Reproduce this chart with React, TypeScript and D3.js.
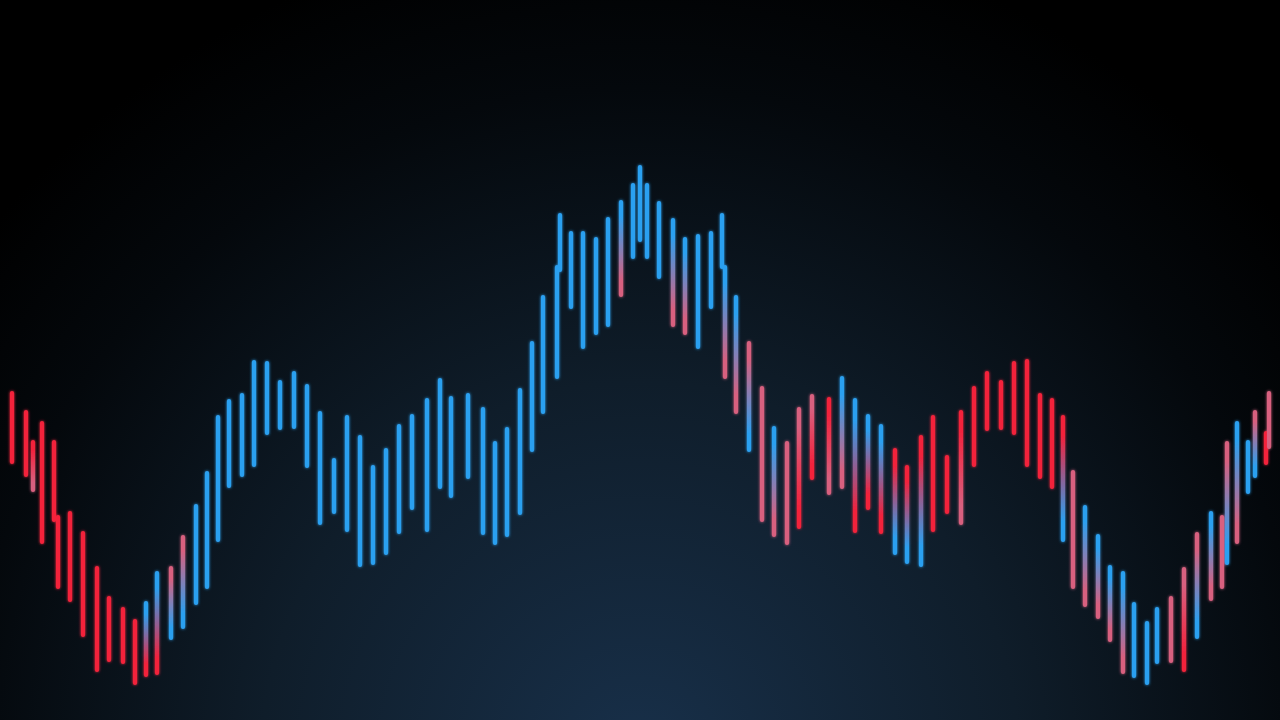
import React, { useEffect, useRef } from "react";
import * as d3 from "d3";

// time position of each bar
const times = [
  1.2, 2.6, 3.3, 4.2, 5.4, 5.8, 7.0, 8.3, 9.7, 10.9, 12.3, 13.5, 14.6, 15.7, 17.1, 18.3,
  19.6, 20.7, 21.8, 22.9, 24.2, 25.4, 26.7, 28.0, 29.4, 30.7, 32.0, 33.4, 34.7, 36.0,
  37.3, 38.6, 39.9, 41.2, 42.7, 44.0, 45.1, 46.8, 48.3, 49.5, 50.7, 52.0, 53.2, 54.3,
  55.7, 56.0, 57.1, 58.3, 59.6, 60.8, 62.1, 63.3, 64.0, 64.7, 65.9, 67.3, 68.5, 69.8,
  71.1, 72.2, 72.5, 73.6, 74.9, 76.2, 77.4, 78.7, 79.9, 81.2, 82.9, 84.2, 85.5, 86.8,
  88.1, 89.5, 90.7, 92.1, 93.3, 94.7, 96.1, 97.4, 98.7, 100.1, 101.4, 102.7, 104.0,
  105.2, 106.3, 107.3, 108.5, 109.8, 111.0, 112.3, 113.4, 114.7, 115.7, 117.1, 118.4,
  119.7, 121.1, 122.2, 122.7, 123.7, 124.8, 125.5, 126.6, 126.9,
];

const highs = [
  32.7, 30.8, 27.8, 29.7, 27.8, 20.3, 20.7, 18.7, 15.2, 12.2, 11.1, 9.9, 11.7, 14.7, 15.2, 18.3,
  21.4, 24.7, 30.3, 31.9, 32.5, 35.8, 35.7, 33.8, 34.7, 33.4, 30.7, 26.0, 30.3, 28.3,
  25.3, 27.0, 29.4, 30.4, 32.0, 34.0, 32.2, 32.5, 31.1, 27.7, 29.1, 33.0, 37.7, 42.3,
  45.3, 50.5, 48.7, 48.7, 48.1, 50.1, 51.8, 53.5, 55.3, 53.5, 51.7, 50.0, 48.1, 48.4,
  48.7, 50.5, 45.3, 42.3, 37.7, 33.2, 29.2, 27.7, 31.1, 32.4, 32.1, 34.2, 32.0, 30.4,
  29.4, 27.0, 25.3, 28.3, 30.3, 26.3, 30.8, 33.2, 34.7, 33.8, 35.7, 35.9, 32.5,
  32.0, 30.3, 24.8, 21.3, 18.4, 15.3, 14.7, 11.6, 9.7, 11.1, 12.2, 15.1,
  18.6, 20.7, 20.3, 27.7, 29.7, 27.8, 30.8, 28.7, 32.7,
];

const lows = [
  25.8, 24.5, 23.0, 17.8, 20.0, 13.3, 12.0, 8.5, 5.0, 6.0, 5.8, 3.7, 4.5, 4.7, 8.2, 9.3,
  11.7, 13.3, 18.0, 23.4, 24.5, 25.5, 28.7, 29.2, 29.3, 25.4, 19.7, 20.8, 19.0, 15.5,
  15.7, 16.7, 18.8, 21.2, 19.0, 23.3, 22.4, 24.3, 18.7, 17.7, 18.5, 20.7, 27.0, 30.8,
  34.3, 45.0, 41.3, 37.3, 38.7, 39.5, 42.5, 46.3, 48.0, 46.3, 44.3, 39.5, 38.7, 37.3,
  41.3, 45.3, 34.3, 30.8, 27.0, 20.0, 18.5, 17.7, 19.3, 24.2, 22.7, 23.3, 18.9, 21.2,
  18.8, 16.7, 15.8, 15.5, 19.0, 20.8, 19.7, 25.5, 29.1, 29.2, 28.7, 25.5, 24.3,
  23.3, 18.0, 13.3, 11.5, 10.3, 8.0, 4.8, 4.4, 3.7, 5.8, 5.9, 5.0,
  8.3, 12.1, 13.3, 15.7, 17.8, 22.8, 24.4, 25.7, 27.3,
];

// colour of the top and bottom end of each bar: r red, b blue, p pink
const topTones = [
  "r", "r", "r", "r", "r", "r", "r", "r", "r", "r", "r", "r", "b", "b", "p", "p",
  "b", "b", "b", "b", "b", "b", "b", "b", "b", "b", "b", "b", "b", "b",
  "b", "b", "b", "b", "b", "b", "b", "b", "b", "b", "b", "b", "b", "b",
  "b", "b", "b", "b", "b", "b", "b", "b", "b", "b", "b", "b", "b", "b",
  "b", "b", "b", "b", "p", "p", "b", "p", "p", "p", "r", "b", "b", "b",
  "b", "r", "r", "r", "r", "r", "r", "r", "r", "r", "r", "r", "r",
  "r", "r", "p", "b", "b", "b", "b", "b", "b", "b", "p", "p",
  "p", "b", "p", "p", "b", "b", "p", "r", "p",
];

const bottomTones = [
  "r", "r", "p", "r", "r", "r", "r", "r", "r", "r", "r", "r", "r", "r", "b", "b",
  "b", "b", "b", "b", "b", "b", "b", "b", "b", "b", "b", "b", "b", "b",
  "b", "b", "b", "b", "b", "b", "b", "b", "b", "b", "b", "b", "b", "b",
  "b", "b", "b", "b", "b", "b", "p", "b", "b", "b", "b", "p", "p", "b",
  "b", "b", "p", "p", "b", "p", "p", "p", "r", "r", "p", "p", "r", "r",
  "r", "b", "b", "b", "r", "r", "p", "r", "r", "r", "r", "r", "r",
  "r", "b", "p", "p", "p", "p", "p", "b", "b", "b", "p", "r",
  "b", "p", "p", "b", "p", "b", "b", "r", "p",
];

const toneColors = { r: "#f3213b", b: "#2ba0f0", p: "#d8607f" };

function CandleField() {
  const svgRef = useRef(null);

  useEffect(() => {
    const svg = d3.select(svgRef.current);
    svg.selectAll("*").remove();
    const width = 1280;
    const height = 720;

    const x = d3.scaleLinear().domain([0, 128]).range([0, width]);
    const y = d3.scaleLinear().domain([0, 72]).range([height, 0]);

    const bars = times.map((t, i) => ({
      t,
      high: highs[i],
      low: lows[i],
      top: toneColors[topTones[i]],
      bottom: toneColors[bottomTones[i]],
    }));

    const defs = svg.append("defs");

    const bg = defs
      .append("radialGradient")
      .attr("id", "bg")
      .attr("gradientUnits", "userSpaceOnUse")
      .attr("cx", 640)
      .attr("cy", 760)
      .attr("r", 840);
    bg.append("stop").attr("offset", 0).attr("stop-color", "#18304a");
    bg.append("stop").attr("offset", 0.45).attr("stop-color", "#0f1d2a");
    bg.append("stop").attr("offset", 0.8).attr("stop-color", "#04080c");
    bg.append("stop").attr("offset", 1).attr("stop-color", "#000000");

    const glow = defs
      .append("filter")
      .attr("id", "glow")
      .attr("x", "-50%")
      .attr("y", "-10%")
      .attr("width", "200%")
      .attr("height", "120%");
    glow.append("feGaussianBlur").attr("stdDeviation", 1.8).attr("result", "blur");
    const merge = glow.append("feMerge");
    merge.append("feMergeNode").attr("in", "blur");
    merge.append("feMergeNode").attr("in", "SourceGraphic");

    bars.forEach((d, i) => {
      const g = defs
        .append("linearGradient")
        .attr("id", `bar${i}`)
        .attr("gradientUnits", "userSpaceOnUse")
        .attr("x1", 0)
        .attr("x2", 0)
        .attr("y1", y(d.high))
        .attr("y2", y(d.low));
      g.append("stop").attr("offset", 0.15).attr("stop-color", d.top);
      g.append("stop").attr("offset", 0.85).attr("stop-color", d.bottom);
    });

    svg
      .append("rect")
      .attr("width", width)
      .attr("height", height)
      .attr("fill", "url(#bg)");

    svg
      .append("g")
      .attr("filter", "url(#glow)")
      .selectAll("line")
      .data(bars)
      .enter()
      .append("line")
      .attr("x1", (d) => x(d.t))
      .attr("x2", (d) => x(d.t))
      .attr("y1", (d) => y(d.high))
      .attr("y2", (d) => y(d.low))
      .attr("stroke", (_, i) => `url(#bar${i})`)
      .attr("stroke-width", 4.2)
      .attr("stroke-linecap", "round");
  }, []);

  return (
    <svg
      ref={svgRef}
      width="1280"
      height="720"
      style={{ position: "absolute", left: 0, top: 0, display: "block" }}
    ></svg>
  );
}

export default function App() {
  return <CandleField />;
}
